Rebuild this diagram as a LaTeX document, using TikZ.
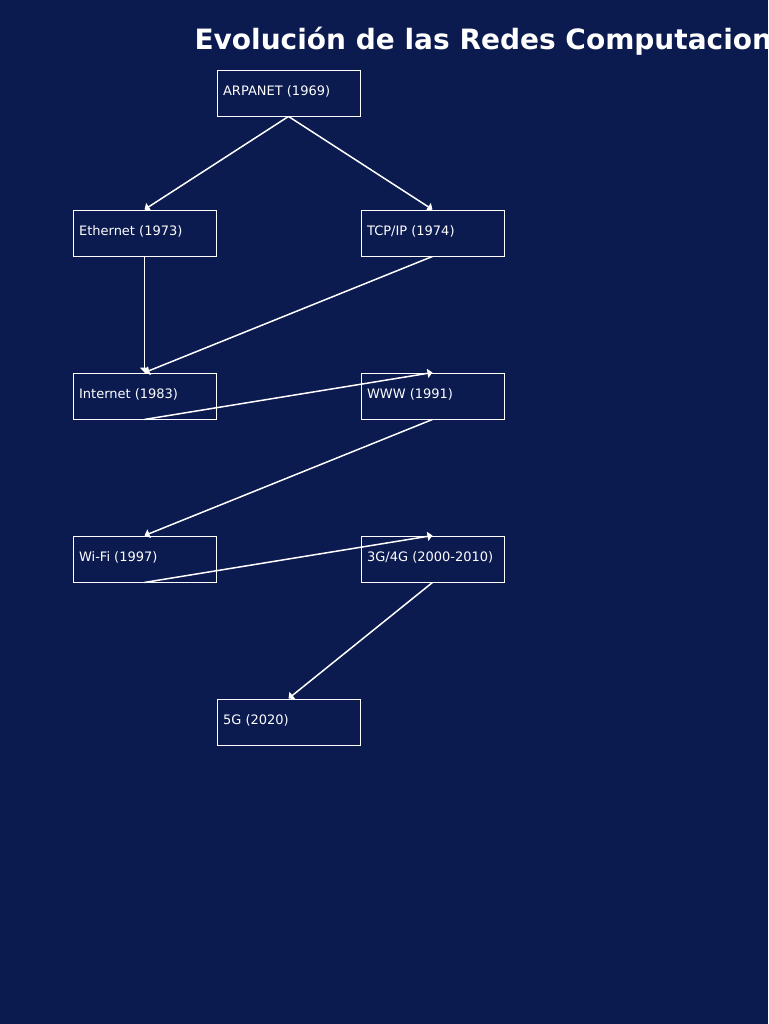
\documentclass[tikz,border=0pt]{standalone}
\usepackage{fontspec}
\setmainfont{DejaVu Sans}
\usetikzlibrary{arrows.meta}
\definecolor{bg}{HTML}{0B1A4F}
\begin{document}
\begin{tikzpicture}[x=1pt,y=-1pt,
  box/.style={draw=white,line width=0.9pt,minimum width=143pt,minimum height=46pt,inner sep=0pt},
  lbl/.style={text=white,font=\fontsize{13}{15}\selectfont,anchor=west},
  edge/.style={draw=white,line width=1.5pt,-{Triangle[width=9pt,length=5pt]}}]
\fill[bg] (0,0) rectangle (768,1024);
\useasboundingbox (0,0) rectangle (768,1024);
\clip (0,0) rectangle (768,1024);
\node[text=white,font=\bfseries\fontsize{28}{32}\selectfont,anchor=west] (title) at (191,41) {Evolución de las Redes Computacionales};
\foreach \n/\x/\y/\t in {arp/288.5/93/{ARPANET (1969)}, eth/144.5/233/{Ethernet (1973)}, tcp/432.5/233/{TCP/IP (1974)}, inet/144.5/396/{Internet (1983)}, www/432.5/396/{WWW (1991)}, wifi/144.5/559/{Wi-Fi (1997)}, g4/432.5/559/{3G/4G (2000-2010)}, g5/288.5/722/{5G (2020)}}{
  \node[box] (\n) at (\x,\y) {};
  \node[lbl] at ([xshift=3pt,yshift=2pt]\n.west) {\t};
}
\draw[edge] (arp.south) -- (eth.north);
\draw[edge] (arp.south) -- (tcp.north);
\draw[edge] (eth.south) -- (inet.north);
\draw[edge] (tcp.south) -- (inet.north);
\draw[edge] (inet.south) -- (www.north);
\draw[edge] (www.south) -- (wifi.north);
\draw[edge] (wifi.south) -- (g4.north);
\draw[edge] (g4.south) -- (g5.north);
\end{tikzpicture}
\end{document}
